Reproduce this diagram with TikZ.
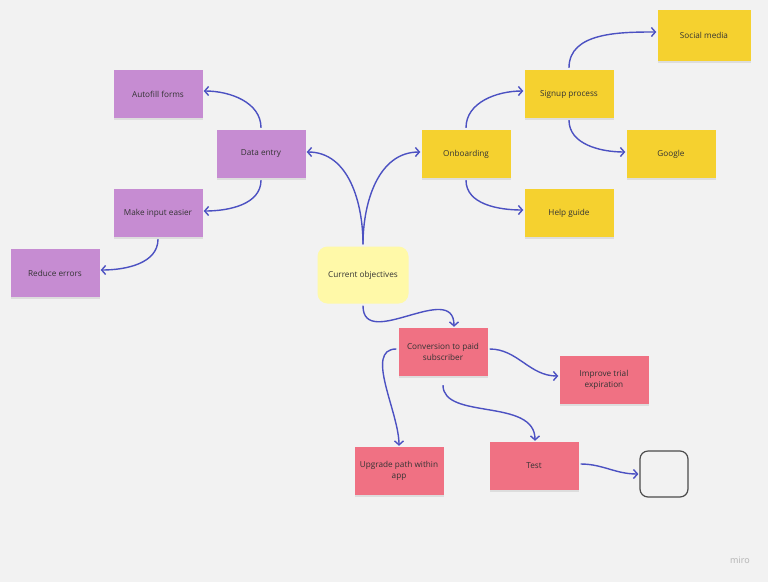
\documentclass[tikz,border=0pt]{standalone}
\usepackage{fontspec}
\setmainfont{Open Sans}
\usepackage{tikz}
\usetikzlibrary{arrows.meta, shadows, positioning}
\definecolor{mybg}{HTML}{F2F2F2}
\definecolor{mypurple}{HTML}{C68CD2}
\definecolor{myyellow}{HTML}{F5D12F}
\definecolor{mypink}{HTML}{F07183}
\definecolor{mypale}{HTML}{FFF9A8}
\definecolor{myblue}{HTML}{4C51C2}
\definecolor{mytext}{HTML}{333333}
\tikzset{
	sticky/.style={
			minimum width=89pt, minimum height=48pt, inner sep=1pt,
			align=center, text=mytext,
			font=\fontsize{8.2}{11}\selectfont,
			drop shadow={shadow xshift=0pt, shadow yshift=-2pt, opacity=0.18},
			fill=#1
		}
}
\tikzset{
	bluelink/.style={
			myblue, line width=1.4pt, shorten <=2pt, shorten >=1pt,
			-{Straight Barb[length=4pt, width=9pt, line width=1.4pt]}
		}
}

\begin{document}
\begin{tikzpicture}[x=1pt, y=-1pt]

	\fill[mybg] (0,0) rectangle (768,582);
	\useasboundingbox (0,0) rectangle (768,582);

	% left branch
	\node[sticky=mypurple] (autofill) at (158,94) {Autofill forms};
	\node[sticky=mypurple] (dataentry) at (261,154) {Data entry};
	\node[sticky=mypurple] (makeinput) at (158,213) {Make input easier};
	\node[sticky=mypurple] (reduce) at (55,273) {Reduce errors};

	% right branch
	\node[sticky=myyellow] (onboard) at (466,154) {Onboarding};
	\node[sticky=myyellow] (signup) at (569,94) {Signup process};
	\node[sticky=myyellow, minimum width=93pt, minimum height=51pt] (social) at (704,35) {Social media};
	\node[sticky=myyellow] (google) at (671,154) {Google};
	\node[sticky=myyellow] (helpguide) at (569,213) {Help guide};

	% centre
	\node[fill=mypale, rounded corners=10pt, minimum width=91pt, minimum height=57pt,
		text=mytext, font=\fontsize{8.2}{11}\selectfont] (current) at (363,275) {Current objectives};

	% lower branch
	\node[sticky=mypink] (convert) at (443,352) {Conversion to paid\\subscriber};
	\node[sticky=mypink] (improve) at (604,380) {Improve trial\\expiration};
	\node[sticky=mypink] (upgrade) at (399,471) {Upgrade path within\\app};
	\node[sticky=mypink] (test) at (534,466) {Test};
	\node[draw=black!70, line width=1.2pt, rounded corners=8pt, fill=mybg,
		minimum width=48pt, minimum height=46pt] (blank) at (664,474) {};

	\node[text=black!30, font=\fontsize{9}{10}\selectfont] (miro) at (740,560) {miro};

	\draw[bluelink] (current.north) to[out=90, in=0] ([yshift=2]dataentry.east);
	\draw[bluelink] (current.north) to[out=90, in=180] ([yshift=2]onboard.west);
	\draw[bluelink] (dataentry.north) to[out=90, in=0] ([yshift=3]autofill.east);
	\draw[bluelink] (dataentry.south) to[out=-90, in=0] ([yshift=2]makeinput.east);
	\draw[bluelink] (makeinput.south) to[out=-90, in=0] ([yshift=3]reduce.east);
	\draw[bluelink] (onboard.north) to[out=90, in=180] ([yshift=3]signup.west);
	\draw[bluelink] (onboard.south) to[out=-90, in=180] ([yshift=3]helpguide.west);
	\draw[bluelink] (signup.north) to[out=90, in=180] ([yshift=3]social.west);
	\draw[bluelink] (signup.south) to[out=-90, in=180] ([yshift=2]google.west);

	\draw[bluelink] (current.south) to[out=-90, in=90, looseness=1.3] ([xshift=11]convert.north);
	\draw[bluelink] ([yshift=3]convert.west) to[out=180, in=90, looseness=0.9] (upgrade.north);
	\draw[bluelink] ([yshift=3]convert.east) to[out=0, in=180] ([yshift=4]improve.west);
	\draw[bluelink, shorten <=9pt] (convert.south) to[out=-90, in=90] ([xshift=1]test.north);
	\draw[bluelink] ([yshift=2]test.east) to[out=0, in=180] (blank.west);

\end{tikzpicture}
\end{document}
